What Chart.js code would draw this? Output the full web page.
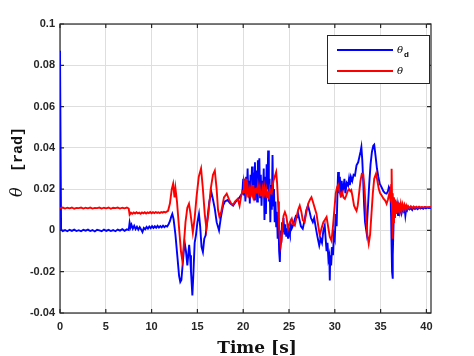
<!DOCTYPE html>
<html><head><meta charset="utf-8">
<script src="https://cdn.jsdelivr.net/npm/chart.js@4/dist/chart.umd.min.js"></script>
<style>html,body{margin:0;padding:0;background:#fff}#wrap{width:474px;height:356px;position:relative}</style>
</head><body><div id="wrap"><canvas id="c" width="474" height="356"></canvas></div>
<script>
// Axis ticks
const xTicks=[0,5,10,15,20,25,30,35,40];
const yTicks=[-0.04,-0.02,0,0.02,0.04,0.06,0.08,0.1];
const yTickLabels=['-0.04','-0.02','0','0.02','0.04','0.06','0.08','0.1'];
const seriesNames=['θd','θ'];

// theta_d (blue): time [s] and value [rad]
const tB=[0,0.12,0.3,0.55,0.8,1.05,1.3,1.55,1.8,2.05,2.3,2.55,2.8,3.05,3.3,3.55,3.8,4.05,4.3,4.55,4.8,5.05,5.3,5.55,5.8,6.05,6.3,6.55,6.8,7.05,7.3,7.5,
7.6,7.7,7.8,7.95,8.1,8.25,8.4,8.55,8.7,8.85,9.0,9.15,9.3,9.45,9.6,9.75,9.9,10.05,10.2,10.35,10.5,10.65,10.8,10.95,11.1,11.25,11.4,11.55,11.7,11.85,12.0,
12.13,12.26,12.4,12.6,12.8,13.0,13.13,13.25,13.4,13.6,13.75,13.9,14.0,14.1,14.2,14.3,14.45,14.55,14.7,14.85,15.0,15.17,15.3,15.45,15.6,15.75,15.9,16.1,16.3,16.52,16.7,16.9,17.1,17.36,17.55,17.8,18.0,18.3,18.6,18.9,19.2,19.6,19.9,
20.0,20.08,20.16,20.24,20.32,20.4,20.48,20.56,20.64,20.72,20.8,20.88,20.96,21.04,21.12,21.2,21.28,21.36,21.44,21.52,21.6,21.68,21.76,21.84,21.92,22.0,22.08,22.16,22.24,22.32,22.4,22.48,22.56,22.64,22.72,22.8,22.88,22.96,23.04,23.12,23.2,23.28,23.36,23.44,23.52,23.6,23.68,23.76,23.84,23.92,24.0,24.08,24.16,24.24,24.32,24.4,
24.5,24.6,24.7,24.8,24.9,25.0,25.1,25.2,25.3,25.44,25.6,25.75,25.9,26.0,26.15,26.3,26.5,26.7,26.9,27.08,27.25,27.4,27.6,27.75,27.9,28.1,28.3,28.45,28.6,28.75,28.9,29.0,29.1,29.2,29.3,29.4,29.45,29.5,29.6,29.7,29.8,29.9,30.0,30.1,30.2,30.3,30.36,30.45,30.55,30.65,30.75,30.85,30.95,31.05,31.15,31.3,31.45,31.55,31.64,31.75,31.9,32.05,32.2,32.37,32.55,32.7,32.8,32.9,33.0,33.1,33.2,33.3,33.46,33.6,33.75,33.9,34.05,34.2,34.3,34.45,34.6,34.75,34.9,35.1,35.3,35.5,35.65,35.8,35.9,36.0,
36.1,36.15,36.2,36.25,36.3,36.35,36.42,36.5,36.55,36.6,36.7,36.8,36.9,37.0,37.1,37.2,37.3,37.4,37.5,37.6,37.7,37.8,37.9,38.0,38.15,38.3,38.45,38.6,38.75,38.9,39.05,39.2,39.35,39.5,39.65,39.8,39.95,40.1,40.25,40.5];
const thetaD=[.087,.0004,-.0003,.0002,-.0004,.0003,-.0002,.0004,-.0003,.0001,-.0004,.0003,-.0001,.0004,-.0003,.0002,-.0005,.0003,0,-.0004,.0004,-.0002,.0003,-.0003,.0002,-.0004,.0004,-.0001,.0006,-.0002,.0005,.0002,
.0038,.0015,.0028,.0008,.0022,.0006,.0018,.0004,.0016,.0005,-.0008,.0012,.0006,.0017,.0009,.0019,.0011,.0021,.0012,.002,.0013,.0022,.0014,.0021,.0015,.0023,.0016,.0022,.0019,.003,.0045,
.0065,.008,.0055,-.002,-.012,-.022,-.025,-.024,-.016,-.0056,-.01,-.017,-.012,-.007,-.012,-.02,-.0315,-.022,-.006,-.002,.004,.008,.002,-.008,-.0105,-.004,-.0024,.006,.014,.0186,.015,.0105,.004,0,.006,.012,.014,.0147,.013,.012,.014,.016,.018,
.025,.017,.022,.014,.026,.018,.03,.016,.024,.013,.027,.02,.031,.017,.028,.015,.033,.019,.029,.014,.034,.018,.035,.016,.027,.012,.024,.017,.03,.005,.026,.008,.032,.02,.0387,.014,.025,.004,.022,.01,.0365,.012,.02,.004,.014,.002,.009,-.004,.006,-.01,-.0153,0,-.006,.004,-.0008,.006,
-.002,.003,-.003,.001,-.004,0,-.002,.003,.001,.0024,.005,.007,.0065,.008,.005,.002,.0008,.005,.01,.012,.009,.006,.004,.006,.002,-.003,-.0073,-.004,-.006,0,.0024,-.004,-.01,-.006,-.014,-.012,-.0242,-.012,-.017,-.008,-.012,-.002,-.004,.008,.002,.02,.0283,.018,.026,.016,.024,.019,.021,.025,.018,.023,.0218,.025,.022,.026,.024,.027,.0266,.0315,.033,.036,.038,.0404,.034,.024,.012,.004,-.0008,.01,.022,.032,.038,.041,.0415,.036,.03,.026,.0226,.021,.019,.018,.0178,.019,.021,.02,
.014,.006,-.008,-.02,-.0234,-.012,.004,.012,.006,.014,.008,.012,.0075,.011,.009,.0115,.0085,.0105,.0095,.0112,.0072,.0108,.0098,.0112,.0102,.0108,.0099,.0112,.0104,.0109,.0103,.0112,.0106,.011,.0105,.0112,.0107,.0111,.0109,.011];

// theta (red): time [s] and value [rad]
const tR=[0,0.3,0.55,0.8,1.05,1.3,1.55,1.8,2.05,2.3,2.55,2.8,3.05,3.3,3.55,3.8,4.05,4.3,4.55,4.8,5.05,5.3,5.55,5.8,6.05,6.3,6.55,6.8,7.05,7.3,7.5,
7.6,7.75,7.9,8.05,8.2,8.35,8.5,8.65,8.8,8.95,9.1,9.25,9.4,9.55,9.7,9.85,10.0,10.15,10.3,10.45,10.6,10.75,10.9,11.05,11.2,11.35,11.5,11.65,11.8,
12.0,12.2,12.35,12.5,12.6,12.77,13.0,13.2,13.35,13.5,13.7,13.9,14.08,14.25,14.5,14.7,14.9,15.15,15.4,15.6,15.8,15.98,16.2,16.45,16.7,16.9,17.1,17.25,17.4,17.6,17.9,18.2,18.45,18.7,18.9,19.1,19.4,19.6,19.75,19.9,
20.0,20.08,20.16,20.24,20.32,20.4,20.5,20.6,20.7,20.8,20.9,21.0,21.1,21.2,21.3,21.4,21.5,21.6,21.7,21.8,21.9,22.0,22.1,22.2,22.3,22.4,22.5,22.6,22.7,22.8,22.9,23.0,23.1,23.2,23.3,23.44,23.6,23.7,23.8,23.9,24.0,24.1,24.2,24.3,24.4,
24.55,24.7,24.9,25.1,25.3,25.45,25.63,25.8,26.0,26.17,26.35,26.5,26.7,26.9,27.1,27.3,27.45,27.6,27.8,28.0,28.2,28.36,28.55,28.75,28.9,29.1,29.3,29.45,29.64,29.8,29.95,30.1,30.25,30.36,30.5,30.65,30.8,30.95,31.1,31.25,31.4,31.55,31.7,31.8,31.95,32.1,32.25,32.37,32.5,32.65,32.8,32.95,33.1,33.25,33.4,33.55,33.7,33.85,34.0,34.15,34.3,34.5,34.65,34.8,34.95,35.1,35.3,35.5,35.65,35.8,35.95,36.05,36.15,
36.2,36.26,36.3,36.35,36.4,36.46,36.52,36.6,36.7,36.8,36.9,37.0,37.1,37.2,37.3,37.4,37.5,37.6,37.7,37.8,37.9,38.0,38.15,38.3,38.45,38.6,38.75,38.9,39.05,39.2,39.35,39.5,39.7,39.9,40.1,40.3,40.5];
const theta=[.0108,.0111,.0106,.011,.0107,.0111,.0105,.0109,.0108,.0111,.0106,.011,.0107,.0111,.0106,.0109,.0108,.0111,.0106,.011,.0107,.0111,.0105,.011,.0108,.0111,.0106,.011,.0107,.0111,.0106,
.0076,.0086,.0081,.0087,.0082,.0088,.0083,.0086,.0081,.0087,.0083,.0088,.0082,.0087,.0084,.0089,.0083,.0088,.0084,.0089,.0085,.0088,.0084,.0089,.0086,.009,.0087,.0091,.0095,
.013,.02,.0226,.016,.0205,.014,.001,-.01,-.0145,-.008,.004,.011,.0129,.008,-.001,.006,.016,.026,.03,.02,.008,.001,.008,.02,.027,.029,.02,.01,.0066,.009,.016,.0178,.015,.013,.0125,.014,.0153,.012,.016,.019,
.0186,.024,.0226,.02,.025,.019,.021,.0178,.02,.016,.021,.018,.022,.017,.02,.0202,.018,.022,.019,.021,.017,.017,.02,.016,.021,.018,.02,.016,.019,.015,.02,.018,.0178,.021,.024,.026,.0283,.023,.014,.003,-.004,-.0073,-.004,.003,.007,
.0089,.007,.0008,.004,.0057,.003,.0024,.006,.01,.012,.009,.005,.004,.009,.013,.015,.0161,.014,.011,.008,.002,-.0024,.001,.004,.005,.0065,.001,-.003,-.005,.002,.01,.018,.021,.022,.019,.017,.0185,.016,.0153,.017,.019,.02,.019,.0195,.016,.012,.0105,.0095,.012,.018,.024,.0275,.0275,.02,.008,-.002,-.0064,-.002,.008,.018,.025,.0275,.024,.02,.018,.017,.0155,.0145,.0129,.015,.018,.016,.022,
.0299,.012,-.004,.018,.004,.016,.006,.015,.008,.014,.009,.0135,.0095,.0128,.01,.0125,.0102,.0122,.0104,.012,.0106,.0118,.0108,.0117,.0109,.0116,.011,.0115,.011,.0115,.0111,.0114,.0111,.0114,.0112,.0114,.0113];

const AX='#262626';
const frame={
  id:'frame',
  beforeDatasetsDraw(chart){
    const {ctx,chartArea:a,scales:{x,y}}=chart;
    ctx.save();
    ctx.strokeStyle=AX;ctx.lineWidth=1.2;
    ctx.strokeRect(a.left,a.top,a.right-a.left,a.bottom-a.top);
    ctx.beginPath();
    xTicks.forEach(v=>{const p=x.getPixelForValue(v);
      ctx.moveTo(p,a.bottom);ctx.lineTo(p,a.bottom-4);
      ctx.moveTo(p,a.top);ctx.lineTo(p,a.top+4);});
    yTicks.forEach(v=>{const p=y.getPixelForValue(v);
      ctx.moveTo(a.left,p);ctx.lineTo(a.left+4,p);
      ctx.moveTo(a.right,p);ctx.lineTo(a.right-4,p);});
    ctx.stroke();
    ctx.restore();
  },
  afterDatasetsDraw(chart){
    const {ctx,chartArea:a}=chart;
    ctx.save();
    // legend
    const lx=a.right-104, ly=a.top+11, lw=102, lh=48;
    ctx.fillStyle='#fff';ctx.fillRect(lx,ly,lw,lh);
    ctx.strokeStyle=AX;ctx.lineWidth=1;ctx.strokeRect(lx+0.5,ly+0.5,lw,lh);
    const cols=['#0000ff','#ff0000'];
    [15,36].forEach((dy,i)=>{
      ctx.strokeStyle=cols[i];ctx.lineWidth=2;
      ctx.beginPath();ctx.moveTo(lx+10,ly+dy);ctx.lineTo(lx+66,ly+dy);ctx.stroke();
      ctx.fillStyle='#000';ctx.textBaseline='alphabetic';ctx.textAlign='left';
      ctx.font='italic 10px "DejaVu Serif"';
      ctx.fillText(seriesNames[i].charAt(0),lx+70,ly+dy+3);
      if(seriesNames[i].length>1){ctx.font='bold 8px "Liberation Sans"';ctx.fillText(seriesNames[i].slice(1),lx+77,ly+dy+7);}
    });
    // x title
    ctx.fillStyle='#111';
    ctx.font='bold 17px "DejaVu Serif"';ctx.textAlign='center';ctx.textBaseline='alphabetic';
    ctx.fillText('Time [s]',257,353);
    // y title
    ctx.translate(22,197);ctx.rotate(-Math.PI/2);
    ctx.textAlign='left';
    ctx.font='italic 16px "DejaVu Serif"';ctx.fillText('θ',0,0);
    ctx.font='bold 15px "Liberation Mono"';ctx.fillText('[rad]',25,0);
    ctx.restore();
  }
};

new Chart(document.getElementById('c'),{
  type:'line',
  data:{datasets:[
    {label:seriesNames[0],data:tB.map((t,i)=>({x:t,y:thetaD[i]})),borderColor:'#0000ff',borderWidth:1.9,pointRadius:0,tension:0,order:2},
    {label:seriesNames[1],data:tR.map((t,i)=>({x:t,y:theta[i]})),borderColor:'#ff0000',borderWidth:1.9,pointRadius:0,tension:0,order:1}
  ]},
  options:{
    responsive:false,animation:false,devicePixelRatio:1,events:[],
    layout:{padding:{left:0,top:24,right:43,bottom:0}},
    plugins:{legend:{display:false},tooltip:{enabled:false}},
    scales:{
      x:{type:'linear',min:0,max:40.5,
        afterBuildTicks:s=>{s.ticks=xTicks.map(v=>({value:v}));},
        afterFit:s=>{s.height=43;},
        grid:{color:'#dedede',lineWidth:1,drawTicks:false},
        border:{display:false},
        ticks:{padding:7,color:AX,font:{family:'"Liberation Sans"',size:11,weight:'bold'},callback:v=>String(v)}
      },
      y:{type:'linear',min:-0.04,max:0.1,
        afterBuildTicks:s=>{s.ticks=yTicks.map(v=>({value:v}));},
        afterFit:s=>{s.width=60;},
        grid:{color:'#dedede',lineWidth:1,drawTicks:false},
        border:{display:false},
        ticks:{padding:5,color:AX,font:{family:'"Liberation Sans"',size:11,weight:'bold'},
          callback:(v,i)=>yTickLabels[i]}
      }
    }
  },
  plugins:[frame]
});
</script></body></html>
